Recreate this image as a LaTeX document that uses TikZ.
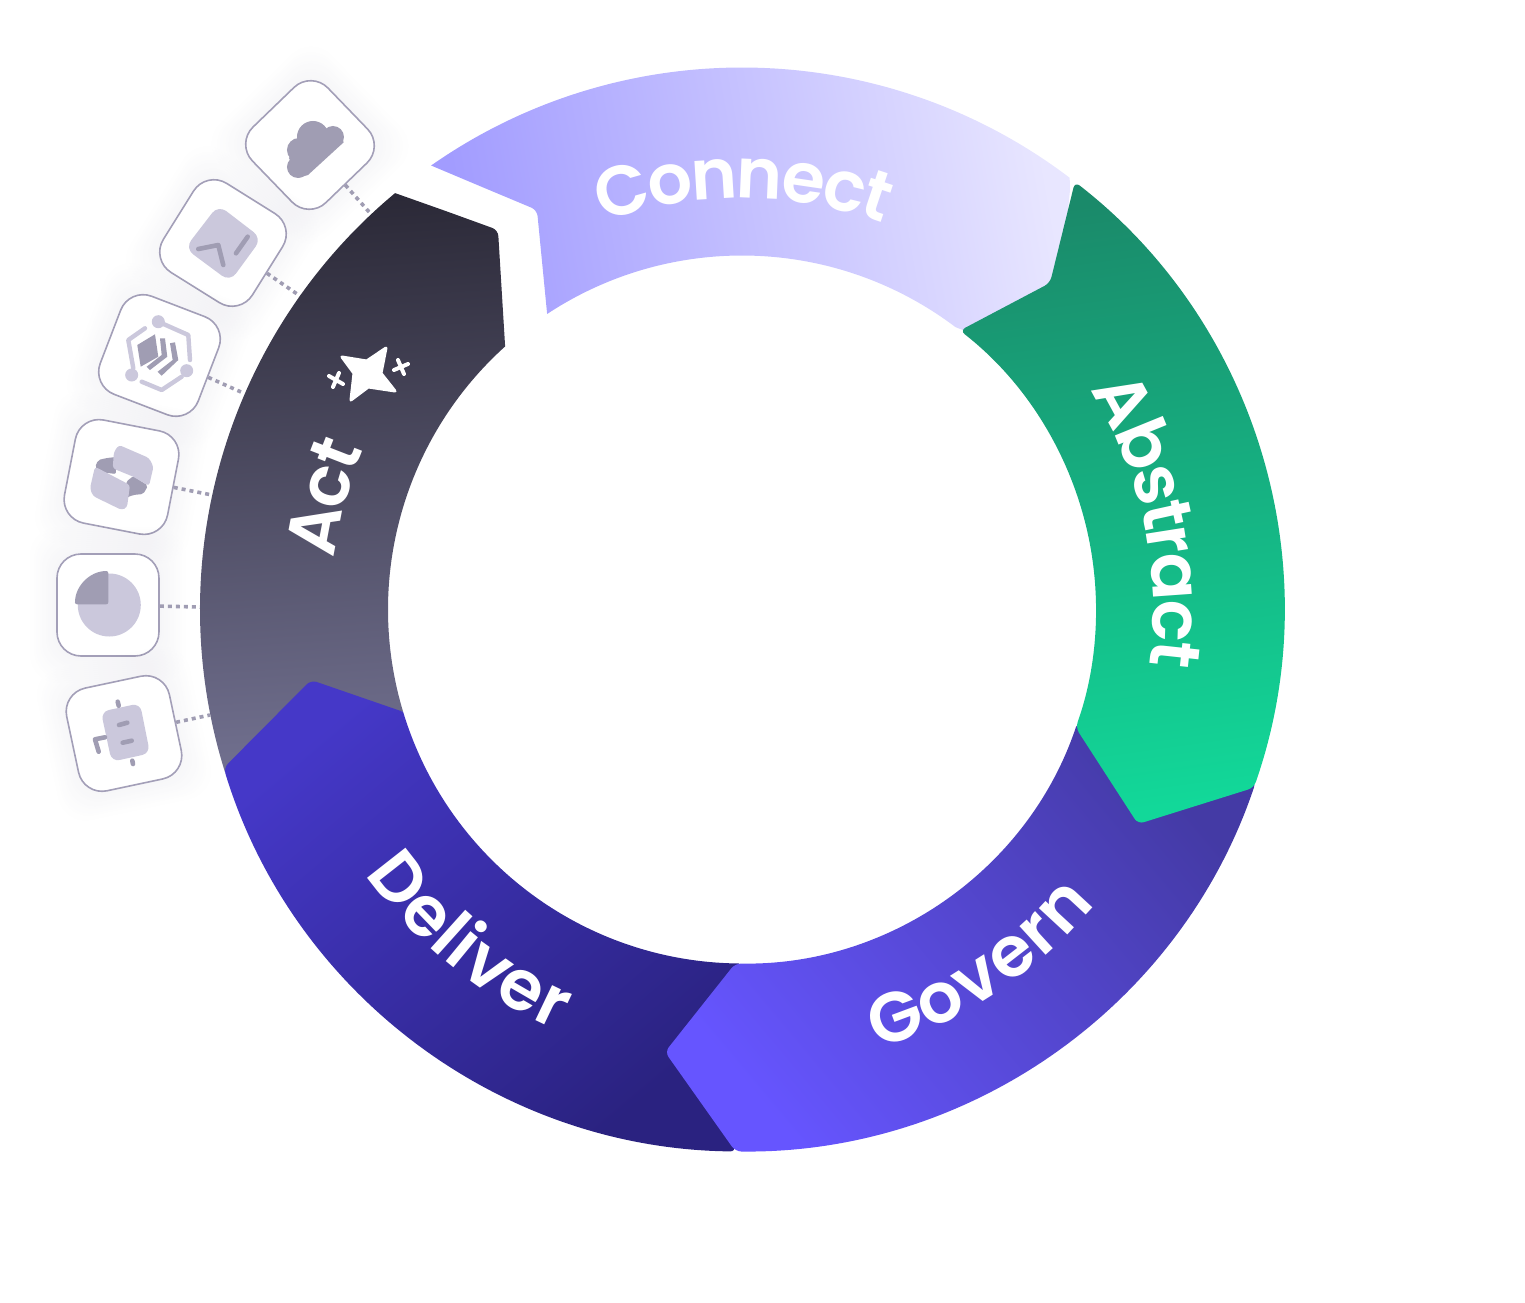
\documentclass[tikz,border=0pt]{standalone}
\usepackage{fontspec}
\newfontfamily\ringfont{Poppins SemiBold}
\usetikzlibrary{decorations.text}
\newcommand{\labelfont}{\ringfont\fontsize{35}{40}\selectfont}
\definecolor{icondark}{HTML}{A09DB3}
\definecolor{iconlight}{HTML}{CBC8DC}
\definecolor{boxedge}{HTML}{A39FB8}
\definecolor{glowtint}{HTML}{55527A}
\definecolor{connectA}{HTML}{A29CFF}
\definecolor{connectB}{HTML}{E8E6FF}
\definecolor{abstractA}{HTML}{1A8A6A}
\definecolor{abstractB}{HTML}{12D899}
\definecolor{governA}{HTML}{443AA5}
\definecolor{governB}{HTML}{6655FF}
\definecolor{deliverA}{HTML}{4538C8}
\definecolor{deliverB}{HTML}{2A2280}
\definecolor{actA}{HTML}{2B2937}
\definecolor{actB}{HTML}{71708F}
\tikzset{
  iconbox/.style={draw=boxedge, line width=0.8pt, fill=white, rounded corners=12pt, inner sep=0pt},
  glowlayer/.style={fill=glowtint, opacity=0.005},
  dotlink/.style={draw=icondark, line width=1.8pt, dash pattern=on 2pt off 2pt},
  px/.style={shift={(-742,609.5)}, y=-0.5pt},
  darkline/.style={draw=icondark, line width=2.3pt, line cap=round, line join=round},
  lightline/.style={draw=iconlight, line width=2.2pt, line cap=round, line join=round},
  sparkleline/.style={draw=white, line width=2pt, line cap=round},
  ringlabel/.style 2 args={decorate, decoration={text along path, text format delimiters={|}{|}, text align=center, text={|\labelfont\color{white}\kern#2|#1}}},
  connectseg/.style={left color=connectA, right color=connectB, shading angle=100},
  abstractseg/.style={top color=abstractA, bottom color=abstractB, shading angle=8},
  governseg/.style={top color=governA, bottom color=governB, shading angle=-50},
  deliverseg/.style={top color=deliverA, bottom color=deliverB, shading angle=40},
  actseg/.style={top color=actA, bottom color=actB, shading angle=4}
}
\begin{document}
\begin{tikzpicture}[x=0.5pt, y=0.5pt]
\useasboundingbox (-742,609.5) rectangle (783,-692.5);
\begin{scope}[px]
\foreach \nm/\cx/\cy/\ang/\side in {cloud/310/145/-46/52.5, spark/223/243/-32/52.5, hive/159.5/355.5/-21/52.5, copilot/121.5/477/-11/52.5, pie/108/605/0/51, robot/124/733.5/12/52.5}{
  \foreach \g in {2,4,...,26}
    \fill[glowlayer, shift={(\cx,\cy)}, rotate=\ang, rounded corners=14pt] (-52-\g,-52-\g) rectangle (52+\g,52+\g);
  \node[iconbox, rotate=\ang, minimum size=\side pt] (\nm) at (\cx,\cy){};
}
\coordinate (cloudend) at (370,213);
\coordinate (sparkend) at (300,296);
\coordinate (hiveend) at (241,392);
\coordinate (copilotend) at (212,495);
\coordinate (pieend) at (200,607);
\coordinate (robotend) at (210,715);
\draw[dotlink] (cloud) -- (cloudend);
\draw[dotlink] (spark) -- (sparkend);
\draw[dotlink] (hive) -- (hiveend);
\draw[dotlink] (copilot) -- (copilotend);
\draw[dotlink] (pie) -- (pieend);
\draw[dotlink] (robot) -- (robotend);
\fill[icondark] (313,137) circle (16);
\fill[icondark] (333,137) circle (11);
\fill[icondark] (299,150) circle (12);
\fill[icondark] (298,167) circle (11);
\fill[icondark] (313,122) -- (344,142) -- (308,175) -- (298,178) -- (289,158) -- cycle;
\fill[iconlight, rounded corners=5pt] (218.3,205) -- (261.7,238.3) -- (230,281.7) -- (185,248.3) -- cycle;
\draw[darkline] (198.3,249) -- (218.3,245) -- (223.3,265);
\draw[darkline] (236,253.3) -- (247.7,236.7);
\fill[iconlight] (158.3,321.7) circle (6.5);
\fill[iconlight] (131.7,375) circle (6.5);
\fill[iconlight] (186.7,370.7) circle (6.5);
\draw[lightline] (158.3,321.7) -- (188.3,335) -- (190,360);
\draw[lightline] (145,328.3) -- (128.3,340) -- (133.3,368.3);
\draw[lightline] (141.7,381.7) -- (161.7,390) -- (181.7,376.7);
\fill[icondark] (137.3,345) -- (155,334.3) -- (158.3,356.7) -- (140.7,366.7) -- cycle;
\fill[icondark] (160,338.3) -- (165,338.3) -- (167.3,356.7) -- (150,370) -- (146.7,366.7) -- (161.7,355) -- cycle;
\fill[icondark] (170,343.3) -- (175,342.3) -- (178.3,360) -- (161.7,375.7) -- (157.7,371.7) -- (172.7,360) -- cycle;
\fill[icondark, rounded corners=1pt] (95,467) -- (98.3,460) -- (107,458) -- (116,457) -- (116,474) -- (100,472) -- cycle;
\fill[icondark, rounded corners=1pt] (126,482) -- (133.3,476) -- (148,485.7) -- (143.3,494) -- (133,495) -- (126,498) -- cycle;
\fill[iconlight, rounded corners=1.5pt] (114,451.7) -- (119,445) -- (149,458) -- (153.5,466.7) -- (149,486) -- (133.3,476.7) -- (112.7,468.3) -- cycle;
\fill[iconlight, rounded corners=1.5pt] (95,466.7) -- (130,485) -- (127,507.5) -- (121.7,510) -- (93,496) -- (90,488.3) -- cycle;
\fill[iconlight] (109.3,605) circle (31.5);
\fill[icondark, rounded corners=1pt] (108.3,604.3) -- (108.3,571) .. controls (90,571) and (75,586) .. (75,604.3) -- cycle;
\fill[iconlight, rounded corners=4pt] (101,711.7) -- (140,703.3) -- (150,753.3) -- (111.7,761.7) -- cycle;
\draw[darkline] (117.7,701.7) -- (118.7,705.7);
\draw[darkline] (132.3,760.7) -- (133,764);
\draw[darkline] (119,725) -- (127.3,722.7);
\draw[darkline] (122.7,742.7) -- (131.7,740.7);
\draw[darkline] (98.7,751.7) -- (95,739.3) -- (105,737.3);
\end{scope}
\shade[connectseg] (123.4:354) [rounded corners=3pt] -- (-205,399.5) -- (-258,421.7) [sharp corners] -- (125:542) arc[start angle=125, end angle=52.8, radius=542] -- (328,419.5) -- (318,319.5) -- (226,277.5) -- (52.9:354) arc[start angle=52.9, end angle=123.4, radius=354] -- cycle;
\shade[actseg] (132:354) [rounded corners=3pt] -- (-244,379.5) -- (-295,398) [sharp corners] -- (129.8:542) arc[start angle=129.8, end angle=197.5, radius=542] -- (-420,-90) -- (196.8:354) arc[start angle=196.8, end angle=132, radius=354] -- cycle;
\shade[deliverseg] (196.8:354) [rounded corners=3pt] -- (-431,-70.5) -- (197:542) arc[start angle=197, end angle=269.4, radius=542] [sharp corners] -- (-60,-442.5) -- (269.5:354) arc[start angle=269.5, end angle=196.8, radius=354] -- cycle;
\shade[governseg, rounded corners=3pt] (-77,-442.5) -- (268.9:354) arc[start angle=268.9, end angle=341.5, radius=354] -- (400,-210) -- (-18.5:542) arc[start angle=-18.5, end angle=-90.7, radius=542] -- cycle;
\shade[abstractseg, rounded corners=3pt] (52.1:542) arc[start angle=52.1, end angle=-19.2, radius=542] -- (396,-214.5) -- (-19.5:354) [sharp corners] arc[start angle=-19.5, end angle=10, radius=354] [rounded corners=3pt] arc[start angle=10, end angle=52, radius=354] -- (308,326.5) -- cycle;
\path[ringlabel={Connect}{-1.45pt}] (150:411) arc[start angle=150, end angle=29.4, radius=411];
\path[ringlabel={Abstract}{-1.45pt}] (62:411) arc[start angle=62, end angle=-38, radius=411];
\path[ringlabel={Govern}{0.7pt}] (-110:460) arc[start angle=-110, end angle=-2.8, radius=460];
\path[ringlabel={Deliver}{0.4pt}] (180.6:460) arc[start angle=180.6, end angle=280.6, radius=460];
\path[ringlabel={Act}{-1.45pt}] (210:411) arc[start angle=210, end angle=119.6, radius=411];
\begin{scope}[px]
\filldraw[white, line width=1.5pt, line join=round] (342,357) -- (366.7,361) -- (386,348) -- (381,373.3) -- (395,391) -- (368.3,387) -- (351,400) -- (354,373.3) -- cycle;
\draw[sparkleline] (329,376) -- (343,384);
\draw[sparkleline] (339,373) -- (333,387);
\draw[sparkleline] (394,370) -- (408,364);
\draw[sparkleline] (398,360) -- (404,374);
\end{scope}
\end{tikzpicture}
\end{document}
